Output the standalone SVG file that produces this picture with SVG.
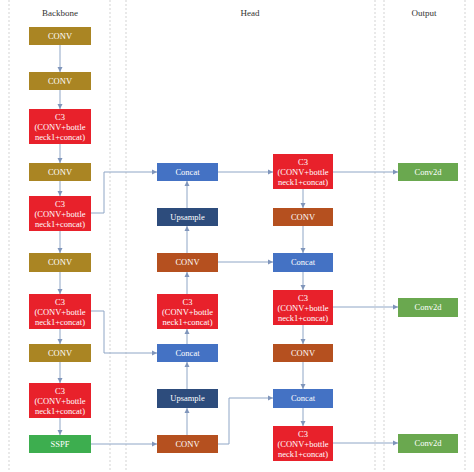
<svg xmlns="http://www.w3.org/2000/svg" width="474" height="472" viewBox="0 0 474 472">
<style>
.t{font-family:"Liberation Serif","Times New Roman",serif;font-size:8.5px;fill:#fff;text-anchor:middle}
.h{font-family:"Liberation Serif","Times New Roman",serif;font-size:9px;fill:#333;text-anchor:middle}
.sep{stroke:#c8c8c8;stroke-width:0.8;stroke-dasharray:2,2;fill:none}
.c{stroke:#8fa6c6;stroke-width:1;fill:none;marker-end:url(#a)}
.bb{fill:#AA8523}
.red{fill:#E8212B}
.hc{fill:#B5501F}
.cat{fill:#4472C4}
.up{fill:#2D4C7C}
.out{fill:#6AA84F}
.sp{fill:#3DAE4F}
</style>
<defs>
<marker id="a" markerWidth="6" markerHeight="6" refX="5" refY="3" orient="auto" markerUnits="userSpaceOnUse">
<path d="M0,0.5 L5,3 L0,5.5 Z" fill="#7f95bb"/>
</marker>
</defs>
<rect width="474" height="472" fill="#fff"/>
<g id="separators">
<line class="sep" x1="9" y1="0" x2="9" y2="472"/>
<line class="sep" x1="110" y1="0" x2="110" y2="472"/>
<line class="sep" x1="126" y1="0" x2="126" y2="472"/>
<line class="sep" x1="375" y1="0" x2="375" y2="472"/>
<line class="sep" x1="384" y1="0" x2="384" y2="472"/>
<line class="sep" x1="465" y1="0" x2="465" y2="472"/>
</g>
<g id="headers">
<text class="h" x="60" y="16">Backbone</text>
<text class="h" x="250" y="16">Head</text>
<text class="h" x="424" y="16">Output</text>
</g>
<g id="connectors">
<line class="c" x1="60" y1="45" x2="60" y2="72"/>
<line class="c" x1="60" y1="90" x2="60" y2="109"/>
<line class="c" x1="60" y1="144" x2="60" y2="163"/>
<line class="c" x1="60" y1="181" x2="60" y2="196"/>
<line class="c" x1="60" y1="231" x2="60" y2="253"/>
<line class="c" x1="60" y1="272" x2="60" y2="294"/>
<line class="c" x1="60" y1="329" x2="60" y2="344"/>
<line class="c" x1="60" y1="362" x2="60" y2="383"/>
<line class="c" x1="60" y1="418" x2="60" y2="435"/>
<polyline class="c" points="91,213 104,213 104,172 157,172"/>
<polyline class="c" points="91,311 104,311 104,353 157,353"/>
<line class="c" x1="91" y1="444" x2="157" y2="444"/>
<line class="c" x1="187" y1="435" x2="187" y2="408"/>
<line class="c" x1="187" y1="389" x2="187" y2="362"/>
<line class="c" x1="187" y1="344" x2="187" y2="329"/>
<line class="c" x1="187" y1="294" x2="187" y2="272"/>
<line class="c" x1="187" y1="253" x2="187" y2="226"/>
<line class="c" x1="187" y1="208" x2="187" y2="181"/>
<line class="c" x1="218" y1="172" x2="273" y2="172"/>
<line class="c" x1="218" y1="262" x2="273" y2="262"/>
<polyline class="c" points="218,444 229,444 229,398 273,398"/>
<line class="c" x1="303" y1="189" x2="303" y2="208"/>
<line class="c" x1="303" y1="226" x2="303" y2="253"/>
<line class="c" x1="303" y1="272" x2="303" y2="290"/>
<line class="c" x1="303" y1="325" x2="303" y2="344"/>
<line class="c" x1="303" y1="362" x2="303" y2="389"/>
<line class="c" x1="303" y1="408" x2="303" y2="426"/>
<line class="c" x1="333" y1="172" x2="398" y2="172"/>
<line class="c" x1="333" y1="307" x2="398" y2="307"/>
<line class="c" x1="333" y1="443" x2="398" y2="443"/>
</g>
<g id="b1"><rect class="bb" x="29" y="27" width="62" height="18"/><text class="t" x="60" y="39">CONV</text></g>
<g id="b2"><rect class="bb" x="29" y="72" width="62" height="18"/><text class="t" x="60" y="84">CONV</text></g>
<g id="b3"><rect class="red" x="29" y="109" width="62" height="35"/><text class="t" x="60" y="120">C3</text><text class="t" x="60" y="130">(CONV+bottle</text><text class="t" x="60" y="140">neck1+concat)</text></g>
<g id="b4"><rect class="bb" x="29" y="163" width="62" height="18"/><text class="t" x="60" y="175">CONV</text></g>
<g id="b5"><rect class="red" x="29" y="196" width="62" height="35"/><text class="t" x="60" y="207">C3</text><text class="t" x="60" y="217">(CONV+bottle</text><text class="t" x="60" y="227">neck1+concat)</text></g>
<g id="b6"><rect class="bb" x="29" y="253" width="62" height="19"/><text class="t" x="60" y="265">CONV</text></g>
<g id="b7"><rect class="red" x="29" y="294" width="62" height="35"/><text class="t" x="60" y="305">C3</text><text class="t" x="60" y="315">(CONV+bottle</text><text class="t" x="60" y="325">neck1+concat)</text></g>
<g id="b8"><rect class="bb" x="29" y="344" width="62" height="18"/><text class="t" x="60" y="356">CONV</text></g>
<g id="b9"><rect class="red" x="29" y="383" width="62" height="35"/><text class="t" x="60" y="394">C3</text><text class="t" x="60" y="404">(CONV+bottle</text><text class="t" x="60" y="414">neck1+concat)</text></g>
<g id="b10"><rect class="sp" x="29" y="435" width="62" height="18"/><text class="t" x="60" y="447">SSPF</text></g>
<g id="h1"><rect class="cat" x="157" y="163" width="61" height="18"/><text class="t" x="187.5" y="175">Concat</text></g>
<g id="h2"><rect class="up" x="157" y="208" width="61" height="18"/><text class="t" x="187.5" y="220">Upsample</text></g>
<g id="h3"><rect class="hc" x="157" y="253" width="61" height="19"/><text class="t" x="187.5" y="265">CONV</text></g>
<g id="h4"><rect class="red" x="157" y="294" width="61" height="35"/><text class="t" x="187.5" y="305">C3</text><text class="t" x="187.5" y="315">(CONV+bottle</text><text class="t" x="187.5" y="325">neck1+concat)</text></g>
<g id="h5"><rect class="cat" x="157" y="344" width="61" height="18"/><text class="t" x="187.5" y="356">Concat</text></g>
<g id="h6"><rect class="up" x="157" y="389" width="61" height="19"/><text class="t" x="187.5" y="401">Upsample</text></g>
<g id="h7"><rect class="hc" x="157" y="435" width="61" height="18"/><text class="t" x="187.5" y="447">CONV</text></g>
<g id="g1"><rect class="red" x="273" y="154" width="60" height="35"/><text class="t" x="303" y="165">C3</text><text class="t" x="303" y="175">(CONV+bottle</text><text class="t" x="303" y="185">neck1+concat)</text></g>
<g id="g2"><rect class="hc" x="273" y="208" width="60" height="18"/><text class="t" x="303" y="220">CONV</text></g>
<g id="g3"><rect class="cat" x="273" y="253" width="60" height="19"/><text class="t" x="303" y="265">Concat</text></g>
<g id="g4"><rect class="red" x="273" y="290" width="60" height="35"/><text class="t" x="303" y="301">C3</text><text class="t" x="303" y="311">(CONV+bottle</text><text class="t" x="303" y="321">neck1+concat)</text></g>
<g id="g5"><rect class="hc" x="273" y="344" width="60" height="18"/><text class="t" x="303" y="356">CONV</text></g>
<g id="g6"><rect class="cat" x="273" y="389" width="60" height="19"/><text class="t" x="303" y="401">Concat</text></g>
<g id="g7"><rect class="red" x="273" y="426" width="60" height="35"/><text class="t" x="303" y="437">C3</text><text class="t" x="303" y="447">(CONV+bottle</text><text class="t" x="303" y="457">neck1+concat)</text></g>
<g id="o1"><rect class="out" x="398" y="163" width="60" height="18"/><text class="t" x="428" y="175">Conv2d</text></g>
<g id="o2"><rect class="out" x="398" y="298" width="60" height="19"/><text class="t" x="428" y="310">Conv2d</text></g>
<g id="o3"><rect class="out" x="398" y="434" width="60" height="19"/><text class="t" x="428" y="446">Conv2d</text></g>
</svg>
